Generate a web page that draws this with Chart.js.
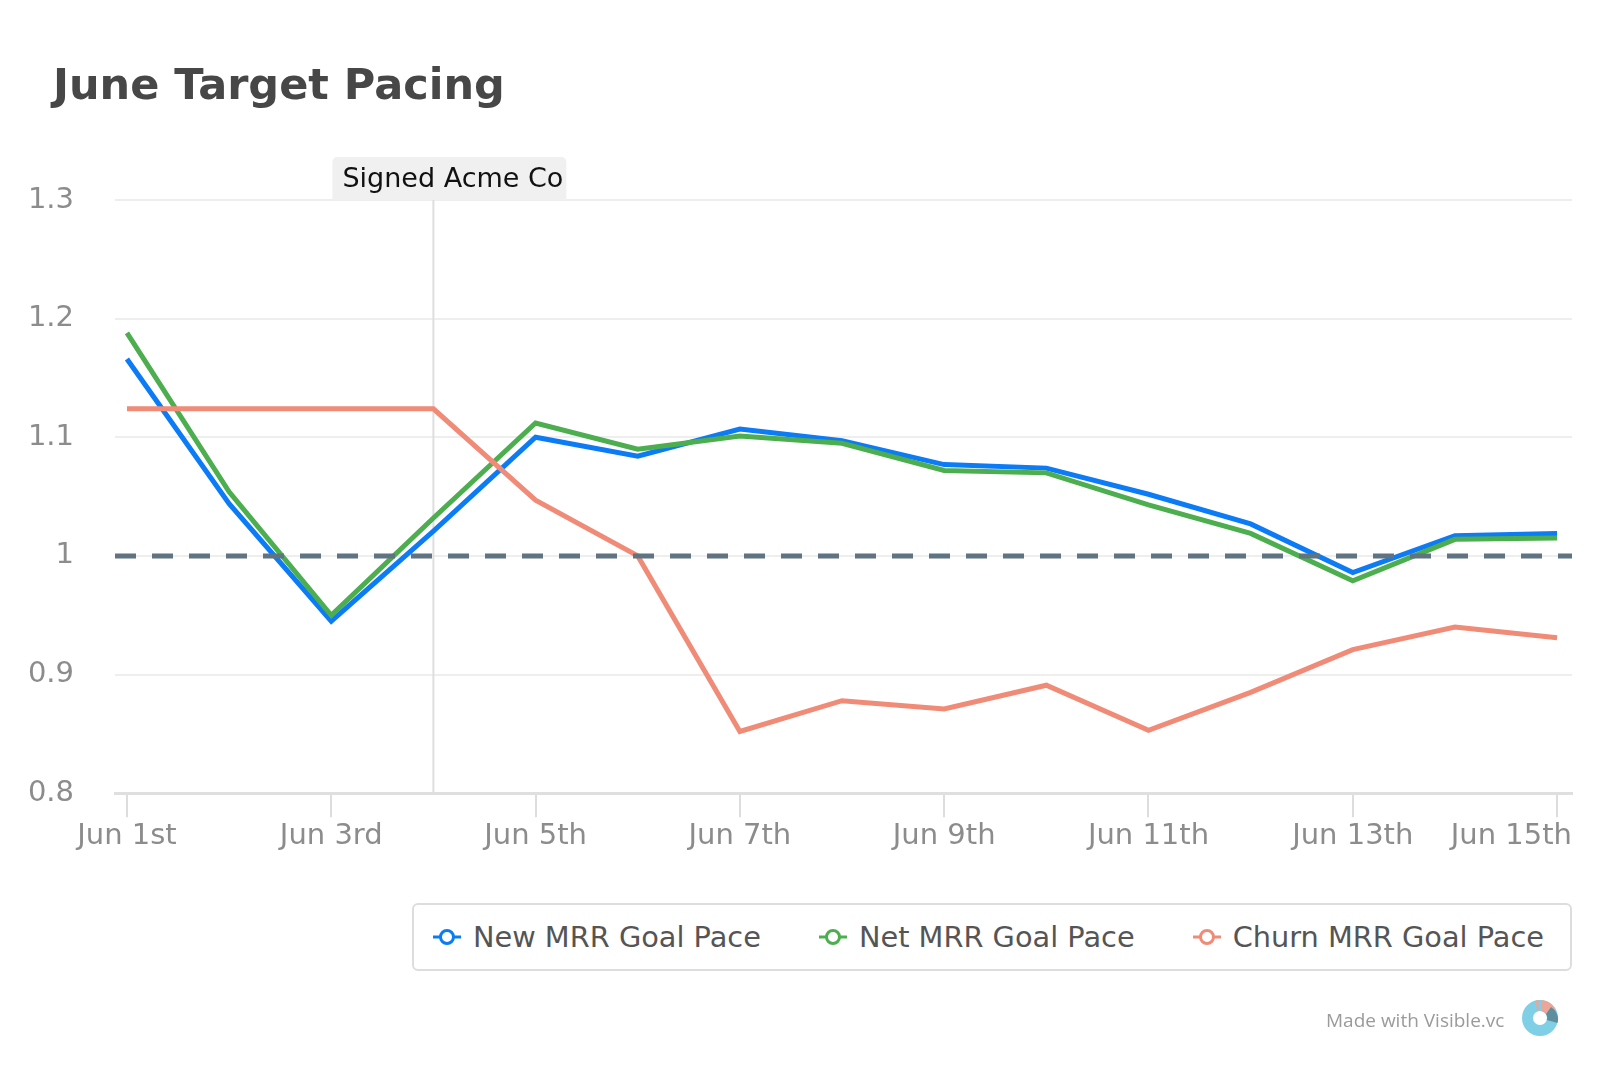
<!DOCTYPE html>
<html>
<head>
<meta charset="utf-8">
<script src="https://cdn.jsdelivr.net/npm/chart.js@4.4.1/dist/chart.umd.min.js"></script>
<style>
html,body{margin:0;padding:0;background:#ffffff;}
#wrap{position:relative;width:1600px;height:1067px;overflow:hidden;font-family:"DejaVu Sans",sans-serif;background:#fff;}
#c{position:absolute;left:0;top:0;}
#title{position:absolute;left:53px;top:63px;font-size:43px;line-height:43px;font-weight:bold;color:#474747;white-space:nowrap;}
#legend{position:absolute;right:28px;top:903px;height:64px;border:2px solid #dddddd;border-radius:6px;display:flex;align-items:center;padding:0 26px 0 19px;font-size:28.8px;color:#555555;background:#fff;white-space:nowrap;}
.item{display:flex;align-items:center;margin-right:58px;}
.item:last-child{margin-right:0;}
.item svg{margin-right:12px;}
#wm{position:absolute;left:1326px;top:1007px;font-family:"Open Sans",sans-serif;font-size:19px;line-height:26px;color:#9b9b9b;white-space:nowrap;}
#logo{position:absolute;left:1520px;top:998px;}
</style>
</head>
<body>
<div id="wrap">
  <canvas id="c" width="1600" height="1067"></canvas>
  <div id="title">June Target Pacing</div>
  <div id="legend"></div>
  <div id="wm">Made with Visible.vc</div>
  <svg id="logo" width="40" height="40" viewBox="0 0 40 40">
    <circle cx="20" cy="20" r="12.5" fill="none" stroke="#7fd0e6" stroke-width="11"/>
    <path d="M21.5 2 A18 18 0 0 1 35.5 11 L26 16 A7 7 0 0 0 21.5 13.2 Z" fill="#eda598"/>
    <path d="M31 9 A14 14 0 0 1 37.5 25 L26.8 22 A7 7 0 0 0 26 16 Z" fill="#5f8f9f"/>
    <path d="M15.5 2.6 A18 18 0 0 1 18.6 2 L18.6 13 A7 7 0 0 0 17.3 13.3 Z" fill="#eda598"/>
  </svg>
</div>
<script>
// ---- data ----
const categories = ['Jun 1st','Jun 2nd','Jun 3rd','Jun 4th','Jun 5th','Jun 6th','Jun 7th','Jun 8th','Jun 9th','Jun 10th','Jun 11th','Jun 12th','Jun 13th','Jun 14th','Jun 15th'];
const newMRR   = [1.166,1.044,0.945,1.021,1.100,1.084,1.107,1.097,1.077,1.074,1.052,1.027,0.986,1.017,1.019];
const netMRR   = [1.188,1.054,0.950,1.032,1.112,1.090,1.101,1.095,1.072,1.070,1.043,1.019,0.979,1.014,1.015];
const churnMRR = [1.124,1.124,1.124,1.124,1.047,1.000,0.852,0.878,0.871,0.891,0.853,0.885,0.921,0.940,0.931];
const seriesNames  = ['New MRR Goal Pace','Net MRR Goal Pace','Churn MRR Goal Pace'];
const seriesColors = ['#0b7bf6','#4cae4f','#f08b77'];
const yTickValues = [0.8,0.9,1.0,1.1,1.2,1.3];
const xTickLabels = ['Jun 1st','Jun 3rd','Jun 5th','Jun 7th','Jun 9th','Jun 11th','Jun 13th','Jun 15th'];
const targetValue = 1;
const annotationDay = 'Jun 4th';
const annotationText = 'Signed Acme Co';

const seriesValues = [newMRR, netMRR, churnMRR];
const toPoints = arr => arr.map((v,i) => ({x: i + 1, y: v}));

// ---- legend (HTML) ----
const legendEl = document.getElementById('legend');
seriesNames.forEach((name, i) => {
  const d = document.createElement('div');
  d.className = 'item';
  d.innerHTML = '<svg width="28" height="20" viewBox="0 0 28 20"><line x1="0" y1="10" x2="28" y2="10" stroke="'+seriesColors[i]+'" stroke-width="3"/><circle cx="14" cy="10" r="6.5" fill="#fff" stroke="'+seriesColors[i]+'" stroke-width="3"/></svg><span>'+name+'</span>';
  legendEl.appendChild(d);
});

Chart.defaults.font.family = '"DejaVu Sans", sans-serif';

const decor = {
  id: 'decor',
  beforeDraw(chart) {
    const x = chart.scales.x;
    const items = x.getLabelItems();
    const last = items[items.length - 1];
    if (last) {
      last.options.textAlign = 'right';
      last.options.translation = [chart.chartArea.right, last.options.translation[1]];
    }
  },
  beforeDatasetsDraw(chart) {
    const {ctx, chartArea: a, scales: {x}} = chart;
    const px = x.getPixelForValue(categories.indexOf(annotationDay) + 1);
    ctx.save();
    ctx.strokeStyle = '#dedede';
    ctx.lineWidth = 2;
    ctx.beginPath();
    ctx.moveTo(px, a.top);
    ctx.lineTo(px, a.bottom);
    ctx.stroke();
    ctx.restore();
  },
  afterDatasetsDraw(chart) {
    const {ctx, chartArea: a, scales: {y}} = chart;
    const py = y.getPixelForValue(targetValue);
    ctx.save();
    ctx.strokeStyle = '#5f7480';
    ctx.lineWidth = 5;
    ctx.setLineDash([21, 16]);
    ctx.beginPath();
    ctx.moveTo(a.left, py);
    ctx.lineTo(a.right, py);
    ctx.stroke();
    ctx.restore();
  },
  afterDraw(chart) {
    const {ctx, chartArea: a, scales: {x}} = chart;
    const px = x.getPixelForValue(categories.indexOf(annotationDay) + 1);
    ctx.save();
    ctx.font = '27px "DejaVu Sans", sans-serif';
    const tw = ctx.measureText(annotationText).width;
    const bx = px - 101, bh = 43, by = a.top - bh, bw = tw + 13, r = 5;
    ctx.fillStyle = '#f0f0f0';
    ctx.beginPath();
    ctx.moveTo(bx, by + bh);
    ctx.lineTo(bx, by + r);
    ctx.arcTo(bx, by, bx + r, by, r);
    ctx.lineTo(bx + bw - r, by);
    ctx.arcTo(bx + bw, by, bx + bw, by + r, r);
    ctx.lineTo(bx + bw, by + bh);
    ctx.closePath();
    ctx.fill();
    ctx.fillStyle = '#111111';
    ctx.textBaseline = 'middle';
    ctx.textAlign = 'left';
    ctx.fillText(annotationText, bx + 10, by + bh / 2 + 1);
    ctx.restore();
  }
};

new Chart(document.getElementById('c'), {
  type: 'line',
  data: {
    datasets: seriesNames.map((name, i) => ({
      label: name,
      data: toPoints(seriesValues[i]),
      borderColor: seriesColors[i],
      backgroundColor: '#ffffff',
      borderWidth: 5,
      pointRadius: 0,
      pointHoverRadius: 0,
      tension: 0,
      fill: false,
      order: 3 - i
    }))
  },
  options: {
    responsive: false,
    devicePixelRatio: 1,
    animation: false,
    layout: { autoPadding: false, padding: { left: 27, right: 28, top: 200, bottom: 211 } },
    plugins: { legend: { display: false }, title: { display: false }, tooltip: { enabled: false } },
    scales: {
      x: {
        type: 'linear',
        min: 0.883,
        max: 15.146,
        afterBuildTicks: s => { s.ticks = xTickLabels.map(l => ({ value: categories.indexOf(l) + 1 })); },
        afterFit: s => { s.paddingLeft = 0; s.paddingRight = 0; },
        ticks: {
          callback: v => categories[Math.round(v) - 1],
          font: { size: 29 },
          color: '#8c8c8c',
          padding: 2,
          maxRotation: 0,
          autoSkip: false
        },
        grid: { drawOnChartArea: false, drawTicks: true, tickLength: 24, color: '#dddddd', lineWidth: 2 },
        border: { display: true, color: '#dfdfdf', width: 3 }
      },
      y: {
        min: 0.8,
        max: 1.3,
        afterBuildTicks: s => { s.ticks = yTickValues.map(v => ({ value: v })); },
        afterFit: s => { s.width = 88; },
        ticks: {
          callback: v => String(Number(v.toFixed(1))),
          font: { size: 29 },
          color: '#8c8c8c',
          padding: 41
        },
        grid: { drawTicks: false, color: '#eeeeee', lineWidth: 2 },
        border: { display: false }
      }
    }
  },
  plugins: [decor]
});
</script>
</body>
</html>
